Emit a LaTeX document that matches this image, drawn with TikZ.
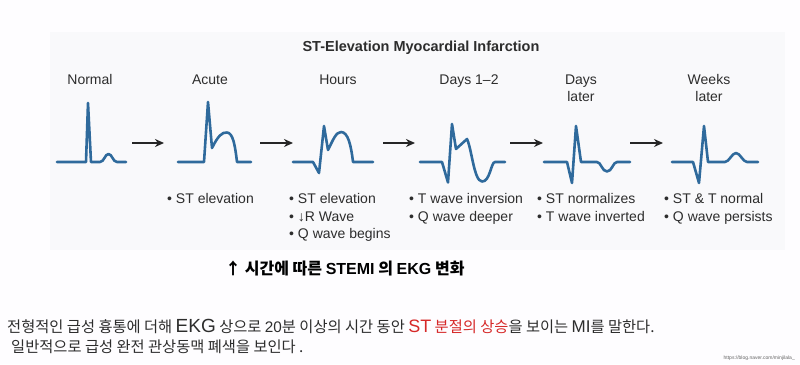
\documentclass[tikz,border=0pt]{standalone}
\usepackage{fontspec}
\setmainfont{Liberation Sans}
\newfontfamily\krfont{Noto Sans CJK KR}
\usetikzlibrary{arrows.meta}

\definecolor{ecgblue}{RGB}{47,106,156}
\definecolor{txtgray}{RGB}{45,45,45}
\definecolor{panelbg}{RGB}{249,249,251}
\definecolor{pagebg}{RGB}{254,253,255}
\definecolor{stred}{RGB}{214,40,40}

\tikzset{
  ecg/.style={draw=ecgblue, line width=2.6pt, line join=round, line cap=round},
  stagearrow/.style={draw=black!85, line width=1.6pt, -{Stealth[length=9pt,width=8pt]}},
  stagelabel/.style={anchor=base, inner sep=0pt, text=txtgray, font=\fontsize{14}{17}\selectfont},
  bulletline/.style={anchor=base west, inner sep=0pt, text=txtgray, font=\fontsize{14}{17}\selectfont},
}

\begin{document}
\begin{tikzpicture}[x=1pt,y=-1pt]
  \fill[pagebg] (0,0) rectangle (800,364);
  \useasboundingbox (0,0) rectangle (800,364);
  \fill[panelbg] (50,32) rectangle (785,250);
  \node[anchor=base, inner sep=0pt, text=txtgray, font=\bfseries\fontsize{14.5}{17}\selectfont]
    (title) at (421,51) {ST-Elevation Myocardial Infarction};
  \node[stagelabel] (lnormal) at (90,84) {Normal};
  \node[stagelabel] (lacute) at (210,84) {Acute};
  \node[stagelabel] (lhours) at (338,84) {Hours};
  \node[stagelabel] (ldays) at (469,84) {Days 1–2};
  \node[stagelabel] (ldaysa) at (581,84) {Days};
  \node[stagelabel] (ldaysb) at (581,101) {later};
  \node[stagelabel] (lweeksa) at (709,84) {Weeks};
  \node[stagelabel] (lweeksb) at (709,101) {later};
  \draw[ecg] (57,162) -- (86,162) -- (88,103) -- (91,162) -- (100,162)
    .. controls (104,162) and (105,154) .. (108.5,154)
    .. controls (112,154) and (113,162) .. (117,162) -- (126,162);
  \draw[ecg] (178,162) -- (204,162) -- (208,102) -- (212,148)
    .. controls (218,136) and (222,132) .. (227,132.5)
    .. controls (233,133) and (235,145) .. (237,162) -- (251,162);
  \draw[ecg] (293,162) -- (313,162) -- (319,173) -- (324,126) -- (328,150)
    .. controls (333,140) and (336,132) .. (341,132)
    .. controls (348,132) and (351,145) .. (353,162) -- (373,162);
  \draw[ecg] (420,162) -- (442,162) -- (448,182.5) -- (452,124) -- (456,149) -- (467,139)
    .. controls (472,150) and (474,181) .. (482,181.5)
    .. controls (490,182) and (491,162) .. (495,162) -- (505,162);
  \draw[ecg] (544,162) -- (567,162) -- (572,183) -- (576,126) -- (581,162) -- (597,162)
    .. controls (601,162) and (602,171.5) .. (607,171.5)
    .. controls (612,171.5) and (613,162) .. (617,162) -- (630,162);
  \draw[ecg] (672,162) -- (693,162) -- (699,183) -- (704,126) -- (708,162) -- (725,162)
    .. controls (729,162) and (732,153) .. (736,153)
    .. controls (740,153) and (743,162) .. (747,162) -- (758,162);
  \coordinate (a1s) at (132,143); \coordinate (a1e) at (164,143);
  \coordinate (a2s) at (260,143); \coordinate (a2e) at (293,143);
  \coordinate (a3s) at (383,143); \coordinate (a3e) at (415,143);
  \coordinate (a4s) at (510,143); \coordinate (a4e) at (543,143);
  \coordinate (a5s) at (630,143); \coordinate (a5e) at (663,143);
  \draw[stagearrow] (a1s) -- (a1e);
  \draw[stagearrow] (a2s) -- (a2e);
  \draw[stagearrow] (a3s) -- (a3e);
  \draw[stagearrow] (a4s) -- (a4e);
  \draw[stagearrow] (a5s) -- (a5e);
  \node[bulletline] (bacute) at (167,203) {• ST elevation};
  \node[bulletline] (bhoursa) at (289,203) {• ST elevation};
  \node[bulletline] (bhoursb) at (289,221) {• ↓R Wave};
  \node[bulletline] (bhoursc) at (289,238) {• Q wave begins};
  \node[bulletline] (bdaysa) at (409,203) {• T wave inversion};
  \node[bulletline] (bdaysb) at (409,221) {• Q wave deeper};
  \node[bulletline] (blatera) at (537,203) {• ST normalizes};
  \node[bulletline] (blaterb) at (537,221) {• T wave inverted};
  \node[bulletline] (bweeksa) at (664,203) {• ST \& T normal};
  \node[bulletline] (bweeksb) at (664,221) {• Q wave persists};
  \node[anchor=base west, inner sep=0pt, font=\krfont\bfseries\fontsize{16}{18}\selectfont]
    (caption) at (225,274) {↑ 시간에 따른 {\rmfamily\fontsize{16}{18}\selectfont STEMI} 의
    {\rmfamily\fontsize{16}{18}\selectfont EKG} 변화};
  \node[anchor=base west, inner sep=0pt, text=txtgray, font=\krfont\fontsize{15.3}{17}\selectfont]
    (parta) at (7,332) {전형적인 급성 흉통에 더해 {\rmfamily\fontsize{19}{19}\selectfont EKG} 상으로
    {\rmfamily 20}분 이상의 시간 동안 \textcolor{stred}{{\rmfamily\fontsize{18}{18}\selectfont ST}
    분절의 상승}을 보이는 {\rmfamily\fontsize{17}{17}\selectfont MI}를 말한다.};
  \node[anchor=base west, inner sep=0pt, text=txtgray, font=\krfont\fontsize{15.3}{17}\selectfont]
    (partb) at (11,352) {일반적으로 급성 완전 관상동맥 폐색을 보인다 .};
  \node[anchor=base east, inner sep=0pt, text=black!60, font=\fontsize{5}{6}\selectfont]
    (url) at (795,359) {https://blog.naver.com/minjilala\_};
\end{tikzpicture}
\end{document}
